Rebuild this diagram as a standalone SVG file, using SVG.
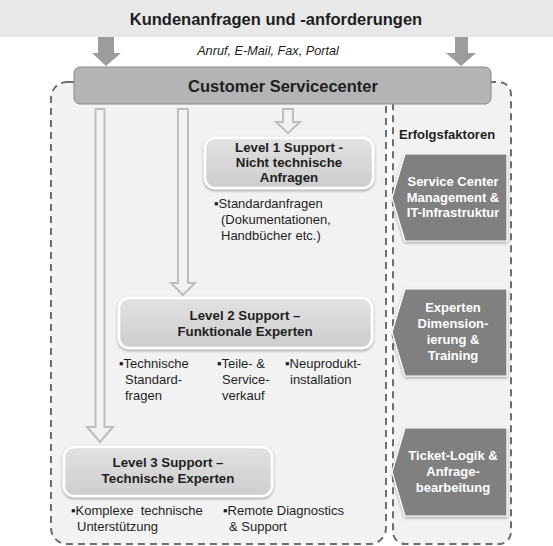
<svg xmlns="http://www.w3.org/2000/svg" width="553" height="546" viewBox="0 0 553 546">
<defs>
<linearGradient id="lvl" x1="0" y1="0" x2="0" y2="1">
<stop offset="0" stop-color="#e2e2e2"/>
<stop offset="1" stop-color="#cdcdcd"/>
</linearGradient>
<filter id="sh" x="-10%" y="-20%" width="120%" height="150%">
<feDropShadow dx="0" dy="1.5" stdDeviation="1.5" flood-color="#000" flood-opacity="0.35"/>
</filter>
<style>
text{font-family:"Liberation Sans",Arial,sans-serif;fill:#1e1e1e}
.b{font-weight:bold}
.t{font-size:13px}
.lv{font-size:13.3px;font-weight:bold;text-anchor:middle}
.cf{font-size:13px;font-weight:bold;text-anchor:middle;fill:#fff}
.cont{fill:#f2f2f2;stroke:#6e6e6e;stroke-width:2;stroke-dasharray:7 5}
.lbox{fill:url(#lvl);stroke:#fff;stroke-width:2.5;filter:url(#sh)}
.hol{fill:#f2f2f2;stroke:#bdbdbd;stroke-width:2}
.sol{fill:#9c9c9c}
.chev{fill:#808080;stroke:#fff;stroke-width:1.2;filter:url(#sh)}
</style>
</defs>
<rect width="553" height="546" fill="#fff"/>
<g id="banner">
<rect x="0" y="0" width="553" height="37" fill="#e8e8e8"/>
<text x="276" y="25" class="b" font-size="16.5" text-anchor="middle">Kundenanfragen und -anforderungen</text>
</g>
<g id="containers">
<rect class="cont" x="51" y="82" width="335" height="462" rx="16"/>
<rect class="cont" x="393" y="82" width="118" height="462" rx="12"/>
</g>
<g id="connectors">
<path class="sol" d="M98,37 H114 V53 H121 L106,66 L92,53 H98 Z"/>
<path class="sol" d="M455,37 H468 V53 H476 L461,66 L446,53 H455 Z"/>
<path class="hol" d="M95.5,109 H104.5 V427 H113 L100,442 L87,427 H95.5 Z"/>
<path class="hol" d="M178,109 H188 V283 H195 L183,295 L171,283 H178 Z"/>
<path class="hol" d="M283,109 H293 V122 H300 L288,133 L276,122 H283 Z"/>
</g>
<text x="268" y="55" font-size="12.7" font-style="italic" text-anchor="middle">Anruf, E-Mail, Fax, Portal</text>
<g id="csc">
<rect x="74" y="67" width="417" height="37" rx="6" fill="#b4b4b4" stroke="#8a8a8a" stroke-width="1"/>
<text x="283" y="92" class="b" font-size="16.5" text-anchor="middle">Customer Servicecenter</text>
</g>
<g id="level1">
<rect class="lbox" x="205" y="138" width="168" height="50" rx="10"/>
<text class="lv" x="289" y="152">Level 1 Support -</text>
<text class="lv" x="289" y="167">Nicht technische</text>
<text class="lv" x="289" y="182">Anfragen</text>
<text class="t" x="214" y="208">▪Standardanfragen</text>
<text class="t" x="221" y="224">(Dokumentationen,</text>
<text class="t" x="221" y="240">Handbücher etc.)</text>
</g>
<g id="level2">
<rect class="lbox" x="119" y="298" width="253" height="50" rx="10"/>
<text class="lv" x="245" y="320">Level 2 Support –</text>
<text class="lv" x="245" y="336">Funktionale Experten</text>
<text class="t" x="119" y="368">▪Technische</text>
<text class="t" x="125" y="384">Standard-</text>
<text class="t" x="125" y="400">fragen</text>
<text class="t" x="217" y="368">▪Teile- &amp;</text>
<text class="t" x="222" y="384">Service-</text>
<text class="t" x="222" y="400">verkauf</text>
<text class="t" x="285" y="368">▪Neuprodukt-</text>
<text class="t" x="290" y="384">installation</text>
</g>
<g id="level3">
<rect class="lbox" x="64" y="447" width="208" height="49" rx="10"/>
<text class="lv" x="168" y="467">Level 3 Support –</text>
<text class="lv" x="168" y="483">Technische Experten</text>
<text class="t" x="71" y="515" style="white-space:pre">▪Komplexe  technische</text>
<text class="t" x="77" y="531">Unterstützung</text>
<text class="t" x="223" y="515">▪Remote Diagnostics</text>
<text class="t" x="229" y="531">&amp; Support</text>
</g>
<text x="399" y="139" class="b" font-size="13">Erfolgsfaktoren</text>
<g id="cf1">
<path class="chev" d="M405,154 H507 V241 H405 L392,198 Z"/>
<text class="cf" x="453" y="186">Service Center</text>
<text class="cf" x="453" y="202">Management &amp;</text>
<text class="cf" x="453" y="217">IT-Infrastruktur</text>
</g>
<g id="cf2">
<path class="chev" d="M405,289 H507 V376 H405 L392,332 Z"/>
<text class="cf" x="453" y="312">Experten</text>
<text class="cf" x="453" y="328">Dimension-</text>
<text class="cf" x="453" y="344">ierung &amp;</text>
<text class="cf" x="453" y="360">Training</text>
</g>
<g id="cf3">
<path class="chev" d="M405,428 H507 V516 H405 L392,472 Z"/>
<text class="cf" x="453" y="460">Ticket-Logik &amp;</text>
<text class="cf" x="453" y="476">Anfrage-</text>
<text class="cf" x="453" y="492">bearbeitung</text>
</g>
</svg>
